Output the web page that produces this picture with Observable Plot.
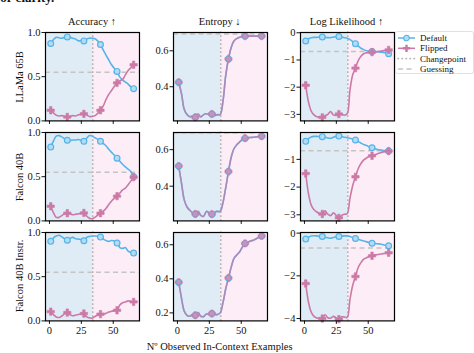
<!DOCTYPE html>
<html><head><meta charset="utf-8">
<script src="https://cdn.jsdelivr.net/npm/d3@7"></script>
<script src="https://cdn.jsdelivr.net/npm/@observablehq/plot@0.6"></script>
<style>
html,body{margin:0;padding:0;background:#fff;}
#root{position:relative;width:474px;height:353px;overflow:hidden;font-family:"Liberation Serif","DejaVu Serif",serif;color:#111;}
.lbl{position:absolute;white-space:nowrap;font-size:10px;line-height:1;}
.panel{position:absolute;}
</style></head><body><div id="root"></div>
<script>
// ---------- data ----------
const xs = [1,3.2,5.3,7.5,9.7,11.8,14,16.2,18.3,20.5,22.7,24.8,27,29.2,31.3,33.5,35.7,37.8,40,42.2,44.3,46.5,48.7,50.8,53,55.2,57.3,59.5,61.7,63.8,66];
const markerIdx = [0,6,12,18,24,30];
const changepoint = 34;
const models = ["LLaMa 65B","Falcon 40B","Falcon 40B Instr."];
const metrics = ["Accuracy ↑","Entropy ↓","Log Likelihood ↑"];
const seriesNames = ["Default","Flipped"];
const guessAcc = 0.55, guessEnt = 0.693, guessLL = -0.693;
const xTicks = [0,25,50];

const accDefLlama = [0.875,0.92,0.945,0.94,0.935,0.945,0.95,0.945,0.935,0.925,0.905,0.91,0.905,0.925,0.935,0.935,0.93,0.905,0.865,0.80,0.745,0.69,0.635,0.595,0.56,0.495,0.465,0.44,0.415,0.385,0.365];
const accFlipLlama = [0.12,0.09,0.065,0.055,0.06,0.05,0.045,0.05,0.06,0.055,0.07,0.07,0.08,0.065,0.05,0.05,0.06,0.085,0.12,0.17,0.24,0.30,0.345,0.39,0.43,0.455,0.47,0.52,0.57,0.60,0.635];
const entLlama = [0.425,0.36,0.275,0.245,0.233,0.237,0.23,0.248,0.232,0.245,0.25,0.245,0.248,0.24,0.245,0.245,0.32,0.46,0.555,0.62,0.655,0.668,0.675,0.68,0.682,0.682,0.682,0.682,0.682,0.682,0.682];
const llDefLlama = [-0.30,-0.22,-0.18,-0.17,-0.17,-0.16,-0.16,-0.17,-0.18,-0.18,-0.16,-0.14,-0.135,-0.16,-0.18,-0.20,-0.25,-0.32,-0.40,-0.49,-0.57,-0.62,-0.66,-0.68,-0.69,-0.70,-0.70,-0.71,-0.72,-0.74,-0.77];
const llFlipLlama = [-1.93,-2.55,-2.88,-3.02,-3.09,-3.1,-3.11,-3.05,-3.0,-2.9,-3.02,-3.04,-2.99,-3.0,-3.03,-2.98,-2.1,-1.55,-1.3,-1.02,-0.86,-0.77,-0.74,-0.72,-0.71,-0.70,-0.69,-0.68,-0.66,-0.64,-0.63];

const accDefFalcon = [0.835,0.905,0.96,0.965,0.95,0.93,0.912,0.91,0.915,0.915,0.92,0.91,0.90,0.935,0.965,0.96,0.94,0.925,0.90,0.875,0.85,0.81,0.775,0.745,0.71,0.675,0.64,0.61,0.585,0.56,0.50];
const accFlipFalcon = [0.165,0.09,0.04,0.04,0.06,0.08,0.087,0.08,0.07,0.075,0.08,0.085,0.09,0.055,0.03,0.025,0.04,0.065,0.087,0.11,0.14,0.185,0.225,0.255,0.28,0.315,0.35,0.37,0.41,0.45,0.495];
const entFalcon = [0.51,0.415,0.325,0.286,0.268,0.255,0.248,0.262,0.24,0.235,0.262,0.255,0.247,0.258,0.262,0.262,0.31,0.39,0.48,0.56,0.605,0.627,0.642,0.655,0.663,0.665,0.667,0.668,0.67,0.672,0.674];
const llDefFalcon = [-0.35,-0.25,-0.19,-0.17,-0.17,-0.18,-0.18,-0.2,-0.23,-0.24,-0.2,-0.17,-0.16,-0.18,-0.2,-0.22,-0.24,-0.27,-0.30,-0.36,-0.41,-0.46,-0.50,-0.55,-0.58,-0.61,-0.64,-0.66,-0.68,-0.69,-0.70];
const llFlipFalcon = [-1.51,-2.25,-2.65,-2.82,-2.9,-2.95,-2.97,-2.86,-2.98,-3.03,-2.93,-3.02,-3.11,-3.02,-2.98,-2.96,-2.4,-1.95,-1.63,-1.33,-1.15,-1.02,-0.95,-0.9,-0.87,-0.83,-0.8,-0.76,-0.73,-0.71,-0.70];

const accDefInstr = [0.9,0.94,0.96,0.968,0.95,0.93,0.913,0.935,0.945,0.93,0.925,0.92,0.906,0.945,0.955,0.96,0.96,0.958,0.948,0.925,0.91,0.9,0.91,0.905,0.88,0.83,0.82,0.83,0.79,0.775,0.767];
const accFlipInstr = [0.105,0.07,0.045,0.038,0.055,0.08,0.094,0.07,0.058,0.066,0.072,0.078,0.083,0.045,0.035,0.03,0.05,0.065,0.076,0.08,0.085,0.1,0.11,0.115,0.12,0.18,0.205,0.215,0.226,0.22,0.215];
const entInstr = [0.38,0.285,0.21,0.186,0.18,0.19,0.186,0.202,0.18,0.178,0.193,0.19,0.196,0.192,0.19,0.2,0.26,0.34,0.405,0.47,0.52,0.54,0.558,0.585,0.608,0.615,0.622,0.627,0.635,0.643,0.652];
const llDefInstr = [-0.28,-0.19,-0.13,-0.12,-0.13,-0.15,-0.16,-0.19,-0.22,-0.24,-0.2,-0.17,-0.16,-0.14,-0.13,-0.13,-0.16,-0.21,-0.25,-0.29,-0.33,-0.37,-0.41,-0.44,-0.47,-0.49,-0.5,-0.51,-0.54,-0.57,-0.59];
const llFlipInstr = [-2.36,-3.25,-3.7,-3.9,-3.97,-3.99,-4.0,-3.82,-3.96,-3.98,-3.9,-3.97,-4.03,-3.92,-3.93,-3.95,-3.1,-2.45,-2.03,-1.6,-1.38,-1.22,-1.15,-1.1,-1.06,-1.03,-1.0,-0.98,-0.96,-0.94,-0.92];

// ---------- styling / layout ----------
const BLUE = "#56b4e9", BLUE_FILL = "#b3dcf3", PINK = "#cc79a7";
const SHADE_L = "#e0ecf5", SHADE_R = "#fcedf6";
const xDomain = [-3.1, 70.6];
const frameLeft = [45, 172.7, 299.5];
const frameTop = [32.3, 132.3, 231.8];
const FW = 94, FH = 88.4;
const ML = 40, MR = 4, MT = 4, MB = 20;

const panels = [
  {row:0,col:0,def:accDefLlama,flip:accFlipLlama,yd:[0,1.0],yt:[0,0.5,1],fmt:d3.format(".1f"),guess:guessAcc},
  {row:0,col:1,def:entLlama,flip:entLlama,yd:[0.21,0.702],yt:[0.4,0.6],fmt:d3.format(".1f"),guess:guessEnt,ent:true},
  {row:0,col:2,def:llDefLlama,flip:llFlipLlama,yd:[-3.24,0.01],yt:[0,-1,-2,-3],fmt:d3.format("d"),guess:guessLL},
  {row:1,col:0,def:accDefFalcon,flip:accFlipFalcon,yd:[0,1.0],yt:[0,0.5,1],fmt:d3.format(".1f"),guess:guessAcc},
  {row:1,col:1,def:entFalcon,flip:entFalcon,yd:[0.21,0.694],yt:[0.4,0.6],fmt:d3.format(".1f"),guess:guessEnt,ent:true},
  {row:1,col:2,def:llDefFalcon,flip:llFlipFalcon,yd:[-3.22,-0.03],yt:[-1,-2,-3],fmt:d3.format("d"),guess:guessLL},
  {row:2,col:0,def:accDefInstr,flip:accFlipInstr,yd:[0,1.0],yt:[0,0.5,1],fmt:d3.format(".1f"),guess:guessAcc},
  {row:2,col:1,def:entInstr,flip:entInstr,yd:[0.153,0.672],yt:[0.2,0.4,0.6],fmt:d3.format(".1f"),guess:guessEnt,ent:true},
  {row:2,col:2,def:llDefInstr,flip:llFlipInstr,yd:[-4.11,0.03],yt:[0,-2,-4],fmt:d3.format("d"),guess:guessLL}
];

const root = document.getElementById("root");

function addLabel(text, left, top, style) {
  const d = document.createElement("div");
  d.className = "lbl";
  d.textContent = text;
  d.style.left = left + "px";
  d.style.top = top + "px";
  Object.assign(d.style, style || {});
  root.appendChild(d);
  return d;
}

for (const p of panels) {
  const toRows = vals => vals.map((v, i) => ({x: xs[i], y: v, i}));
  const dRows = toRows(p.def), fRows = toRows(p.flip);
  const dMk = dRows.filter(d => markerIdx.includes(d.i));
  const fMk = fRows.filter(d => markerIdx.includes(d.i));
  const inRange = p.guess >= p.yd[0] && p.guess <= p.yd[1];
  const op = p.ent ? 0.72 : 1;
  const chart = Plot.plot({
    width: FW + ML + MR,
    height: FH + MT + MB,
    marginLeft: ML, marginRight: MR, marginTop: MT, marginBottom: MB,
    style: {background: "transparent", fontSize: "10.5px", fontFamily: "'Liberation Serif', serif", color: "#111", overflow: "visible"},
    x: {domain: xDomain, ticks: xTicks, tickSize: 3.5, tickPadding: 2.5, label: null,
        tickFormat: p.row === 2 ? (d => String(d)) : (() => "")},
    y: {domain: p.yd, ticks: p.yt, tickSize: 3.5, tickPadding: 1.5, label: null, tickFormat: p.fmt},
    marks: [
      Plot.rect([{x1: xDomain[0], x2: changepoint, y1: p.yd[0], y2: p.yd[1]}], {x1: "x1", x2: "x2", y1: "y1", y2: "y2", fill: SHADE_L}),
      Plot.rect([{x1: changepoint, x2: xDomain[1], y1: p.yd[0], y2: p.yd[1]}], {x1: "x1", x2: "x2", y1: "y1", y2: "y2", fill: SHADE_R}),
      Plot.ruleX([changepoint], {y1: p.yd[0], y2: p.yd[1], stroke: "#b5b5b5", strokeWidth: 1.6, strokeDasharray: "0.5,3.5", strokeLinecap: "round"}),
      inRange ? Plot.ruleY([p.guess], {stroke: "#c4c4c4", strokeWidth: 1.5, strokeDasharray: "5,3.5"}) : null,
      Plot.line(dRows, {x: "x", y: "y", stroke: BLUE, strokeWidth: 1.6, curve: "catmull-rom", clip: true}),
      Plot.line(fRows, {x: "x", y: "y", stroke: PINK, strokeWidth: 1.6, curve: "catmull-rom", strokeOpacity: op, clip: true}),
      Plot.dot(dMk, {x: "x", y: "y", r: 2.9, stroke: BLUE, strokeWidth: 1.2, fill: BLUE_FILL}),
      Plot.dot(fMk, {x: "x", y: "y", r: 3.1, symbol: "cross", fill: PINK, fillOpacity: op, stroke: PINK, strokeOpacity: op, strokeWidth: 0.6}),
      Plot.frame({stroke: "#000", strokeWidth: 1.2})
    ]
  });
  chart.classList.add("panel");
  chart.style.left = (frameLeft[p.col] - ML) + "px";
  chart.style.top = (frameTop[p.row] - MT) + "px";
  chart.style.maxWidth = "none";
  root.appendChild(chart);
}

metrics.forEach((m, c) => {
  const d = addLabel(m, frameLeft[c] + FW / 2, 22, {fontSize: "10.5px"});
  d.style.transform = "translate(-50%,-50%)";
});
models.forEach((m, r) => {
  const d = addLabel(m, 20, frameTop[r] + FH / 2, {fontSize: "10.5px"});
  d.style.transform = "translate(-50%,-50%) rotate(-90deg)";
});
{
  const d = addLabel("Nº Observed In-Context Examples", frameLeft[1] + FW / 2, 346.5, {fontSize: "10.5px"});
  d.style.transform = "translate(-50%,-50%)";
}
addLabel("for clarity.", -4, -9, {fontSize: "13px", fontWeight: "bold"});

// legend
{
  const W = 80, H = 43;
  const svg = d3.create("svg").attr("width", W).attr("height", H)
    .style("position", "absolute").style("left", "395px").style("top", "30.5px").style("overflow", "visible");
  svg.append("rect").attr("x", 0.5).attr("y", 0.5).attr("width", W - 2).attr("height", H - 1)
    .attr("rx", 2).attr("fill", "white").attr("fill-opacity", 0.85).attr("stroke", "#d8d8d8").attr("stroke-width", 0.8);
  const items = [
    {name: seriesNames[0], kind: "def"},
    {name: seriesNames[1], kind: "flip"},
    {name: "Changepoint", kind: "cp"},
    {name: "Guessing", kind: "gs"}
  ];
  items.forEach((it, k) => {
    const y = 7 + k * 10.3;
    const g = svg.append("g").attr("transform", `translate(0,${y})`);
    if (it.kind === "def") {
      g.append("line").attr("x1", 3).attr("x2", 20).attr("y1", 0).attr("y2", 0).attr("stroke", BLUE).attr("stroke-width", 1.5);
      g.append("circle").attr("cx", 11.5).attr("cy", 0).attr("r", 2.8).attr("fill", BLUE_FILL).attr("stroke", BLUE).attr("stroke-width", 1.1);
    } else if (it.kind === "flip") {
      g.append("line").attr("x1", 3).attr("x2", 20).attr("y1", 0).attr("y2", 0).attr("stroke", PINK).attr("stroke-width", 1.5);
      g.append("path").attr("transform", "translate(11.5,0)").attr("d", d3.symbol(d3.symbolCross, 30)()).attr("fill", PINK);
    } else if (it.kind === "cp") {
      g.append("line").attr("x1", 3).attr("x2", 20).attr("y1", 0).attr("y2", 0).attr("stroke", "#b5b5b5").attr("stroke-width", 1.6).attr("stroke-dasharray", "0.5,3.5").attr("stroke-linecap", "round");
    } else {
      g.append("line").attr("x1", 3).attr("x2", 20).attr("y1", 0).attr("y2", 0).attr("stroke", "#c4c4c4").attr("stroke-width", 1.5).attr("stroke-dasharray", "5,3.5");
    }
    g.append("text").attr("x", 25).attr("y", 0).attr("dy", "0.35em").attr("font-size", "9px")
      .attr("font-family", "'Liberation Serif', serif").attr("fill", "#111").text(it.name);
  });
  root.appendChild(svg.node());
}
</script>
</body></html>
